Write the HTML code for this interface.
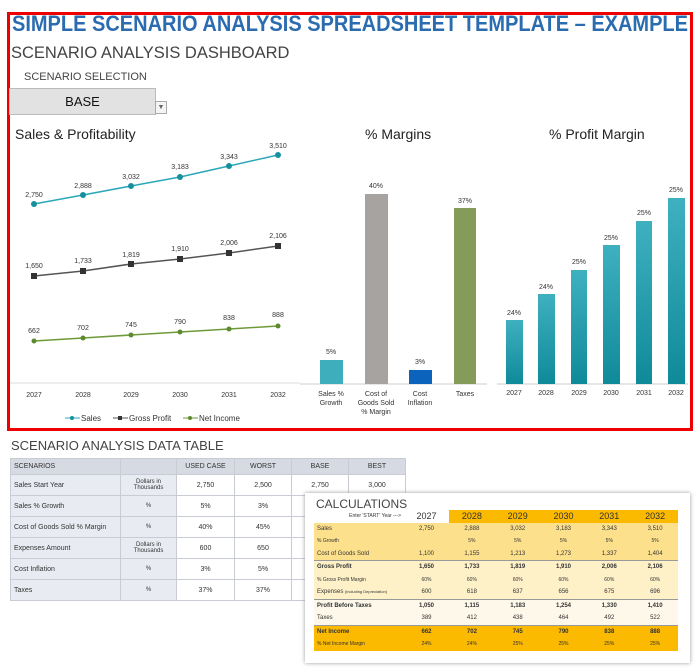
<!DOCTYPE html>
<html><head><meta charset="utf-8"><style>
body{margin:0;width:699px;height:671px;background:#fff;position:relative;overflow:hidden;font-family:"Liberation Sans",sans-serif}
.a{position:absolute}
table{border-collapse:collapse;position:absolute;table-layout:fixed}
#dt td{border:1px solid #c9ccd3;font-size:7px;color:#333;height:20px;padding:0 3px;text-align:center;overflow:hidden;white-space:nowrap}
#dt td:first-child{text-align:left;background:#e8ebf1}
#dt td:nth-child(2){background:#e8ebf1;font-size:6px;white-space:normal}
#dt tr:first-child td{background:#d6dae2;height:15px;font-size:7px}
#ct td{font-size:6px;color:#333;height:12.5px;padding:0 3px;text-align:center;white-space:nowrap;overflow:hidden}
#ct td:first-child{text-align:left}
</style></head><body>
<div class="a" style="left:7px;top:12px;width:680px;height:413px;border:3px solid #e00"></div>
<svg class="a" style="left:0;top:0" width="699" height="40"><text x="12" y="31" font-family="Liberation Sans, sans-serif" font-weight="bold" font-size="22" fill="#2b6cb0" textLength="676" lengthAdjust="spacingAndGlyphs">SIMPLE SCENARIO ANALYSIS SPREADSHEET TEMPLATE – EXAMPLE</text></svg>
<div class="a" style="left:11px;top:44px;font-size:16.5px;color:#444">SCENARIO ANALYSIS DASHBOARD</div>
<div class="a" style="left:24px;top:71px;font-size:11px;color:#444">SCENARIO SELECTION</div>
<div class="a" style="left:9px;top:88px;width:145px;height:25px;background:#e2e2e2;border:1px solid #bbb;font-size:13px;text-align:center;line-height:25px;color:#111">BASE</div>
<div class="a" style="left:155px;top:101px;width:10px;height:11px;border:1px solid #aaa;background:#f4f4f4;font-size:7px;text-align:center;line-height:11px;color:#666">▼</div>
<svg class="a" style="left:0;top:0" width="699" height="440" font-family="Liberation Sans, sans-serif">
<text x="15" y="139" font-size="14" fill="#222">Sales &amp; Profitability</text>
<text x="365" y="139" font-size="14" fill="#222">% Margins</text>
<text x="549" y="139" font-size="14" fill="#222">% Profit Margin</text>
<line x1="10" y1="383" x2="300" y2="383" stroke="#ddd"/>
<polyline points="34,204 83,195 131,186 180,177 229,166 278,155" fill="none" stroke="#2aa8b8" stroke-width="1.5"/>
<g fill="#16909f"><circle cx="34" cy="204" r="3"/><circle cx="83" cy="195" r="3"/><circle cx="131" cy="186" r="3"/><circle cx="180" cy="177" r="3"/><circle cx="229" cy="166" r="3"/><circle cx="278" cy="155" r="3"/></g>
<polyline points="34,276 83,271 131,264 180,259 229,253 278,246" fill="none" stroke="#555" stroke-width="1.5"/>
<g fill="#333"><rect x="31" y="273" width="6" height="6"/><rect x="80" y="268" width="6" height="6"/><rect x="128" y="261" width="6" height="6"/><rect x="177" y="256" width="6" height="6"/><rect x="226" y="250" width="6" height="6"/><rect x="275" y="243" width="6" height="6"/></g>
<polyline points="34,341 83,338 131,335 180,332 229,329 278,326" fill="none" stroke="#6f9a3a" stroke-width="1.5"/>
<g fill="#5d8a2c"><circle cx="34" cy="341" r="2.5"/><circle cx="83" cy="338" r="2.5"/><circle cx="131" cy="335" r="2.5"/><circle cx="180" cy="332" r="2.5"/><circle cx="229" cy="329" r="2.5"/><circle cx="278" cy="326" r="2.5"/></g>
<g font-size="7" fill="#333" text-anchor="middle">
<text x="34" y="197">2,750</text><text x="83" y="188">2,888</text><text x="131" y="179">3,032</text><text x="180" y="169">3,183</text><text x="229" y="159">3,343</text><text x="278" y="148">3,510</text>
<text x="34" y="268">1,650</text><text x="83" y="263">1,733</text><text x="131" y="257">1,819</text><text x="180" y="251">1,910</text><text x="229" y="245">2,006</text><text x="278" y="238">2,106</text>
<text x="34" y="333">662</text><text x="83" y="330">702</text><text x="131" y="327">745</text><text x="180" y="324">790</text><text x="229" y="320">838</text><text x="278" y="317">888</text>
<text x="34" y="397">2027</text><text x="83" y="397">2028</text><text x="131" y="397">2029</text><text x="180" y="397">2030</text><text x="229" y="397">2031</text><text x="278" y="397">2032</text>
</g>
<g font-size="8" fill="#333">
<line x1="65" y1="418" x2="80" y2="418" stroke="#2aa8b8"/><circle cx="72" cy="418" r="2" fill="#16909f"/><text x="81" y="421">Sales</text>
<line x1="113" y1="418" x2="128" y2="418" stroke="#555"/><rect x="118" y="416" width="4" height="4" fill="#333"/><text x="129" y="421">Gross Profit</text>
<line x1="183" y1="418" x2="198" y2="418" stroke="#6f9a3a"/><circle cx="190" cy="418" r="2" fill="#5d8a2c"/><text x="199" y="421">Net Income</text>
</g>
<line x1="300" y1="384" x2="487" y2="384" stroke="#ccc"/>
<rect x="320" y="360" width="23" height="24" fill="#3eaebd"/>
<rect x="365" y="194" width="23" height="190" fill="#a7a3a1"/>
<rect x="409" y="370" width="23" height="14" fill="#0b63bc"/>
<rect x="454" y="208" width="22" height="176" fill="#849b5a"/>
<g font-size="7" fill="#333" text-anchor="middle">
<text x="331" y="354">5%</text><text x="376" y="188">40%</text><text x="420" y="364">3%</text><text x="465" y="203">37%</text>
<text x="331" y="396">Sales %</text><text x="331" y="405">Growth</text>
<text x="376" y="396">Cost of</text><text x="376" y="405">Goods Sold</text><text x="376" y="414">% Margin</text>
<text x="420" y="396">Cost</text><text x="420" y="405">Inflation</text>
<text x="465" y="396">Taxes</text>
</g>
<defs><linearGradient id="g" x1="0" y1="0" x2="0" y2="1"><stop offset="0" stop-color="#3fb0bf"/><stop offset="1" stop-color="#0f8a99"/></linearGradient></defs>
<line x1="497" y1="384" x2="688" y2="384" stroke="#ccc"/>
<g fill="url(#g)">
<rect x="506" y="320" width="17" height="64"/><rect x="538" y="294" width="17" height="90"/><rect x="571" y="270" width="16" height="114"/><rect x="603" y="245" width="17" height="139"/><rect x="636" y="221" width="16" height="163"/><rect x="668" y="198" width="17" height="186"/>
</g>
<g font-size="7" fill="#333" text-anchor="middle">
<text x="514" y="315">24%</text><text x="546" y="289">24%</text><text x="579" y="264">25%</text><text x="611" y="240">25%</text><text x="644" y="215">25%</text><text x="676" y="192">25%</text>
<text x="514" y="395">2027</text><text x="546" y="395">2028</text><text x="579" y="395">2029</text><text x="611" y="395">2030</text><text x="644" y="395">2031</text><text x="676" y="395">2032</text>
</g>
</svg>
<div class="a" style="left:11px;top:438px;font-size:13px;color:#444">SCENARIO ANALYSIS DATA TABLE</div>
<table id="dt" style="left:10px;top:458px;width:395px">
<colgroup><col style="width:110px"><col style="width:56px"><col style="width:58px"><col style="width:57px"><col style="width:57px"><col style="width:57px"></colgroup>
<tr><td>SCENARIOS</td><td></td><td>USED CASE</td><td>WORST</td><td>BASE</td><td>BEST</td></tr>
<tr><td>Sales Start Year</td><td>Dollars in<br>Thousands</td><td>2,750</td><td>2,500</td><td>2,750</td><td>3,000</td></tr>
<tr><td>Sales % Growth</td><td>%</td><td>5%</td><td>3%</td><td></td><td></td></tr>
<tr><td>Cost of Goods Sold % Margin</td><td>%</td><td>40%</td><td>45%</td><td></td><td></td></tr>
<tr><td>Expenses Amount</td><td>Dollars in<br>Thousands</td><td>600</td><td>650</td><td></td><td></td></tr>
<tr><td>Cost Inflation</td><td>%</td><td>3%</td><td>5%</td><td></td><td></td></tr>
<tr><td>Taxes</td><td>%</td><td>37%</td><td>37%</td><td></td><td></td></tr>
</table>
<div class="a" style="left:305px;top:493px;width:385px;height:170px;background:#fff;box-shadow:0 0 4px #999"></div>
<div class="a" style="left:316px;top:497px;font-size:12px;color:#444">CALCULATIONS</div>
<table id="ct" style="left:314px;top:510px;width:364px">
<colgroup><col style="width:90px"><col style="width:45px"><col><col><col><col><col></colgroup>
<tr><td style="text-align:right;font-size:5px">Enter 'START' Year ---&gt;</td><td style="font-size:9px">2027</td><td style="background:#fbb900;font-size:9px">2028</td><td style="background:#fbb900;font-size:9px">2029</td><td style="background:#fbb900;font-size:9px">2030</td><td style="background:#fbb900;font-size:9px">2031</td><td style="background:#fbb900;font-size:9px">2032</td></tr>
<tr style="background:#fde08c"><td>Sales</td><td>2,750</td><td>2,888</td><td>3,032</td><td>3,183</td><td>3,343</td><td>3,510</td></tr>
<tr style="background:#fde08c"><td style="font-size:5px">% Growth</td><td></td><td style="font-size:5px">5%</td><td style="font-size:5px">5%</td><td style="font-size:5px">5%</td><td style="font-size:5px">5%</td><td style="font-size:5px">5%</td></tr>
<tr style="background:#fde08c"><td>Cost of Goods Sold</td><td>1,100</td><td>1,155</td><td>1,213</td><td>1,273</td><td>1,337</td><td>1,404</td></tr>
<tr style="background:#fef1c8;font-weight:bold;border-top:1px solid #999"><td>Gross Profit</td><td>1,650</td><td>1,733</td><td>1,819</td><td>1,910</td><td>2,006</td><td>2,106</td></tr>
<tr style="background:#fef1c8"><td style="font-size:5px">% Gross Profit Margin</td><td style="font-size:5px">60%</td><td style="font-size:5px">60%</td><td style="font-size:5px">60%</td><td style="font-size:5px">60%</td><td style="font-size:5px">60%</td><td style="font-size:5px">60%</td></tr>
<tr style="background:#fef1c8"><td>Expenses <span style="font-size:4px">(including Depreciation)</span></td><td>600</td><td>618</td><td>637</td><td>656</td><td>675</td><td>696</td></tr>
<tr style="background:#fdf8ea;font-weight:bold;border-top:1px solid #999"><td>Profit Before Taxes</td><td>1,050</td><td>1,115</td><td>1,183</td><td>1,254</td><td>1,330</td><td>1,410</td></tr>
<tr style="background:#fdf8ea"><td>Taxes</td><td>389</td><td>412</td><td>438</td><td>464</td><td>492</td><td>522</td></tr>
<tr style="background:#fbb900;font-weight:bold;border-top:1px solid #999"><td>Net Income</td><td>662</td><td>702</td><td>745</td><td>790</td><td>838</td><td>888</td></tr>
<tr style="background:#fbb900"><td style="font-size:5px">% Net Income Margin</td><td style="font-size:5px">24%</td><td style="font-size:5px">24%</td><td style="font-size:5px">25%</td><td style="font-size:5px">25%</td><td style="font-size:5px">25%</td><td style="font-size:5px">25%</td></tr>
</table>
</body></html>
